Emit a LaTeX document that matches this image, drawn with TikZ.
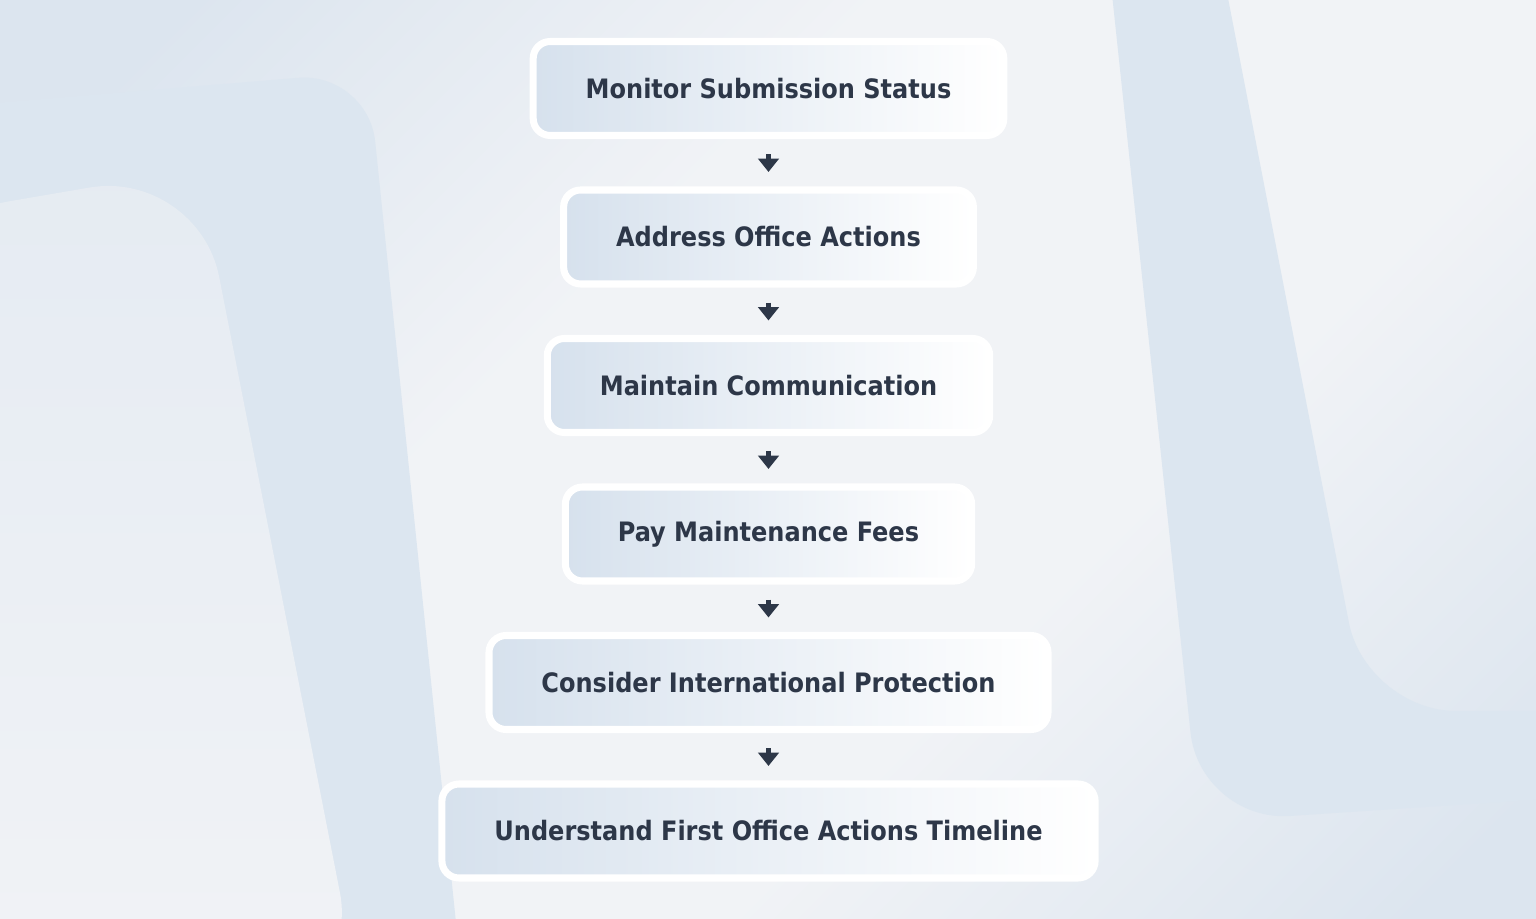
\documentclass[tikz,border=0pt]{standalone}
\usepackage{fontspec}
\newfontfamily\stagefont{DejaVu Sans Condensed}
\usetikzlibrary{positioning,arrows.meta}
\definecolor{bgpale}{HTML}{F1F3F6}
\definecolor{bgblue}{HTML}{DCE5EF}
\definecolor{bandblue}{HTML}{DCE6F0}
\definecolor{boxblue}{HTML}{D6E1ED}
\definecolor{ink}{HTML}{2D3748}
\pgfdeclarehorizontalshading{backdrop}{100bp}{color(0bp)=(bgblue); color(20bp)=(bgblue); color(40bp)=(bgpale); color(62bp)=(bgpale); color(82bp)=(bgblue); color(100bp)=(bgblue)}
\begin{document}
\begin{tikzpicture}[node distance={14.85mm}, thick,
  stage/.style = {draw=white, line width=2pt, rounded corners=1.7mm, left color=boxblue, right color=white, text=ink, font=\stagefont\bfseries\fontsize{7.6}{9}\selectfont, minimum height=9.4mm, inner xsep=5.25mm},
  flow/.style = {-{Triangle[width=5.8pt,length=3.8pt]}, line width=1.35pt, draw=ink, shorten <=1.5mm, shorten >=1.45mm}]
% background
\useasboundingbox (0,0) rectangle (15.36,-9.19);
\fill[bgpale] (0,0) rectangle (15.36,-9.19);
\shade[shading=backdrop, shading angle=-45] (0,0) rectangle (15.36,-9.19);
% left bands
\fill[bandblue, rounded corners=7mm] (-1,-1.11) -- (3.68,-0.72) -- (4.64,-10) -- (-1,-10) -- cycle;
\shade[top color=bgblue!55!bgpale, bottom color=bgpale, rounded corners=11mm] (-1,-2.2) -- (1.98,-1.69) -- (3.61,-10) -- (-1,-10) -- cycle;
% right band
\fill[bandblue, rounded corners=9mm] (11.02,1) -- (12.00,-8.22) -- (16.5,-7.92) -- (16.5,-7.11) -- (13.66,-7.11) -- (12.09,1) -- cycle;
% steps
\node[stage] (mon) at (7.685,-0.885) {Monitor Submission Status};
\node[stage] (addr) [below of=mon] {Address Office Actions};
\node[stage] (comm) [below of=addr] {Maintain Communication};
\node[stage] (fees) [below of=comm] {Pay Maintenance Fees};
\node[stage] (intl) [below of=fees] {Consider International Protection};
\node[stage] (time) [below of=intl] {Understand First Office Actions Timeline};
\draw[flow] (mon) -- (addr);
\draw[flow] (addr) -- (comm);
\draw[flow] (comm) -- (fees);
\draw[flow] (fees) -- (intl);
\draw[flow] (intl) -- (time);
\end{tikzpicture}
\end{document}
